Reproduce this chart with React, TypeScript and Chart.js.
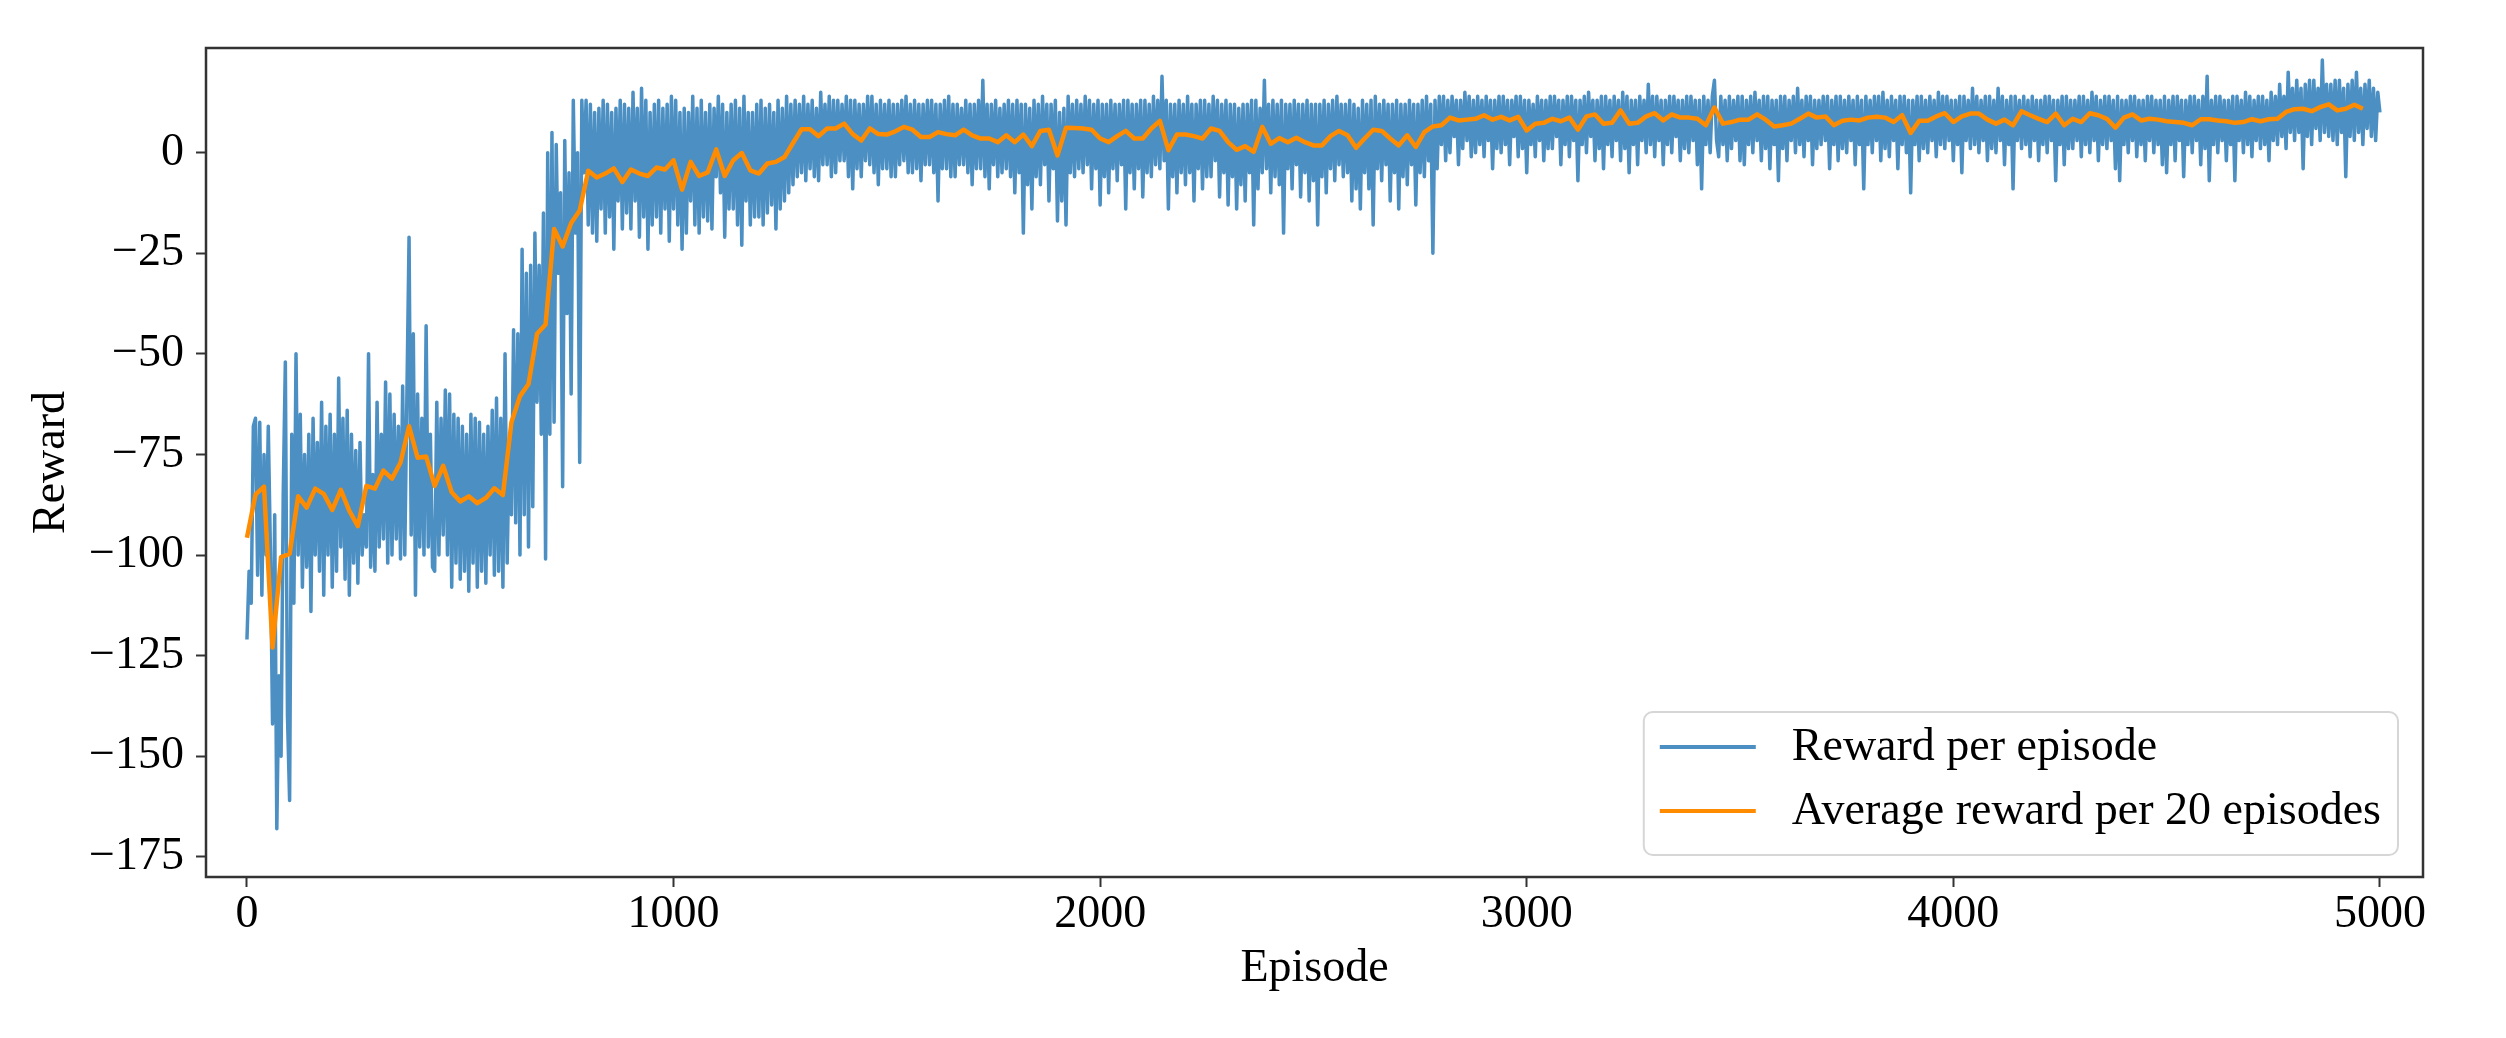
import React, { useEffect, useRef } from 'react';
import { Chart, registerables } from 'chart.js';

Chart.register(...registerables);

// ---- data ----
const REWARD_STEP = 5; // episodes between stored reward samples
const AVG_STEP = 20; // episodes per averaged point

// one row = 100 episodes (20 samples)
const REWARD: number[] = [
  -121, -104, -112, -68, -66, -105, -67, -110, -75, -100, -68, -99, -142, -90, -168, -130, -150, -85, -52, -140,
  -161, -70, -112, -50, -100, -65, -108, -75, -103, -70, -114, -66, -100, -72, -104, -62, -110, -68, -100, -65,
  -108, -70, -104, -56, -98, -66, -106, -64, -110, -70, -102, -74, -107, -72, -100, -90, -98, -50, -103, -80,
  -104, -62, -98, -70, -96, -57, -102, -60, -100, -65, -96, -68, -101, -58, -100, -60, -21, -95, -45, -110,
  -60, -98, -66, -100, -43, -98, -70, -103, -104, -62, -100, -66, -95, -59, -100, -60, -108, -65, -102, -66,
  -106, -68, -104, -70, -109, -65, -102, -66, -108, -67, -104, -70, -107, -68, -100, -64, -105, -61, -104, -66,
  -108, -50, -102, -72, -90, -44, -92, -45, -100, -24, -90, -30, -98, -28, -88, -20, -62, -28, -70, -15,
  -101, 0, -70, 5, -67, 2, -30, -10, -83, 3, -40, -5, -60, 13, -20, 0, -77, 13, -5, 13,
  -18, 12, -20, 10, -22, 11, -14, 13, -20, 12, -16, 10, -24, 11, -12, 13, -19, 12, -15, 11,
  -19, 15, -12, 11, -21, 16, -16, 13, -24, 10, -18, 12, -16, 13, -20, 11, -14, 12, -22, 14,
  -14, 13, -18, 10, -24, 11, -20, 10, -12, 14, -18, 11, -20, 13, -16, 10, -17, 12, -19, 11,
  -6, 14, -10, 12, -21, 10, -14, 12, -14, 13, -18, 11, -23, 14, -12, 10, -18, 10, -16, 12,
  -16, 13, -18, 11, -15, 12, -13, 10, -19, 13, -14, 11, -12, 14, -10, 12, -8, 13, -6, 12,
  -5, 14, -7, 12, -4, 13, -6, 11, -7, 15, -3, 12, -3, 14, -6, 13, -5, 13, -2, 12,
  -2, 14, -6, 13, -9, 13, -4, 12, -6, 12, -2, 14, -3, 14, -5, 12, -8, 13, -4, 12,
  -4, 13, -6, 12, -6, 12, -3, 13, -2, 14, -5, 12, -5, 13, -4, 12, -7, 12, -3, 13,
  -3, 13, -5, 12, -12, 12, -4, 13, -4, 14, -6, 12, -6, 12, -3, 11, -3, 13, -5, 12,
  -8, 12, -4, 13, -4, 18, -6, 12, -9, 12, -3, 13, -6, 11, -5, 12, -4, 13, -6, 12,
  -10, 13, -5, 12, -20, 12, -8, 11, -14, 13, -6, 12, -8, 14, -3, 12, -12, 12, -4, 13,
  -17, 10, -12, 11, -18, 14, -5, 12, -6, 13, -4, 12, -5, 14, -3, 13, -9, 12, -4, 13,
  -13, 12, -6, 12, -10, 13, -4, 12, -7, 12, -3, 13, -14, 13, -5, 12, -9, 12, -4, 13,
  -11, 13, -5, 12, -6, 14, -3, 13, -4, 19, -2, 13, -14, 12, -6, 12, -10, 13, -5, 12,
  -8, 14, -5, 12, -12, 12, -4, 13, -9, 13, -6, 12, -6, 14, -2, 13, -11, 12, -5, 13,
  -13, 12, -6, 12, -14, 11, -8, 12, -12, 12, -5, 13, -18, 13, -9, 11, -5, 18, -4, 12,
  -10, 13, -6, 12, -8, 13, -20, 12, -4, 12, -9, 13, -3, 12, -11, 12, -5, 13, -12, 12,
  -7, 12, -18, 12, -6, 13, -10, 12, -4, 13, -7, 14, -3, 12, -6, 12, -5, 13, -12, 12,
  -9, 11, -14, 13, -5, 12, -9, 13, -18, 14, -4, 12, -7, 13, -3, 12, -12, 12, -5, 13,
  -14, 12, -6, 12, -8, 13, -3, 12, -13, 12, -5, 13, -6, 14, -2, 12, -25, 13, -4, 14,
  2, 14, -2, 13, 0, 14, 4, 13, -3, 13, 1, 15, 3, 14, -1, 13, 0, 14, 2, 13,
  -1, 14, 3, 13, -4, 13, 1, 14, 0, 14, 2, 13, -3, 13, 4, 14, -1, 14, 1, 13,
  -5, 13, 2, 12, -1, 14, 3, 13, -2, 13, 1, 14, 1, 14, 4, 13, -3, 13, 2, 14,
  -1, 14, 3, 13, -7, 13, 2, 14, 0, 15, 4, 13, -2, 13, 1, 14, -4, 14, 2, 13,
  -1, 14, 3, 13, -2, 15, 1, 14, -5, 13, 2, 13, -3, 14, 3, 13, 0, 17, 2, 14,
  -1, 14, 3, 13, -3, 13, 2, 14, 0, 14, 4, 13, -2, 13, 1, 14, 0, 14, 3, 13,
  -3, 13, -9, 14, 2, 13, 0, 14, 18, 3, -1, 14, 2, 13, -2, 14, 1, 13, 3, 14,
  -2, 14, -3, 13, 2, 14, 0, 15, 3, 13, -2, 14, 1, 14, -4, 13, 2, 13, -7, 14,
  1, 14, -2, 13, 3, 14, 0, 16, 2, 13, -1, 14, 3, 14, -3, 13, 1, 13, 2, 14,
  3, 14, -4, 13, 2, 14, -2, 14, 1, 13, 0, 14, 3, 13, -3, 14, 2, 13, -9, 14,
  2, 13, 0, 14, 3, 14, -2, 15, 1, 13, -1, 14, 3, 13, -4, 14, 2, 14, 0, 13,
  -10, 13, 2, 14, -2, 14, 1, 13, 0, 14, 3, 13, -1, 15, 2, 14, 1, 14, 3, 13,
  -2, 13, 2, 14, -5, 14, 3, 13, 1, 16, 2, 14, 0, 13, 3, 14, -2, 14, 1, 13,
  0, 16, 3, 14, -3, 13, 2, 14, -9, 14, 3, 13, 1, 14, 2, 13, -1, 14, 3, 13,
  -2, 13, 2, 14, 0, 14, 3, 13, -7, 13, 2, 14, -3, 14, 1, 13, 1, 13, 3, 14,
  -1, 14, 2, 13, 0, 15, 3, 14, -2, 13, 2, 14, 1, 14, 3, 13, -4, 14, -7, 13,
  2, 13, 0, 14, 3, 14, -1, 13, 2, 13, -2, 14, 3, 14, 0, 13, 2, 13, -3, 14,
  -5, 13, 2, 14, -2, 14, 3, 13, -6, 13, 2, 14, 0, 14, 3, 13, -3, 14, 1, 19,
  -7, 13, 2, 14, 0, 14, 3, 13, -2, 13, 2, 14, -7, 14, 3, 13, 0, 15, 2, 14,
  -1, 13, 3, 14, 1, 14, 2, 13, -2, 15, 3, 14, 2, 17, 4, 14, 1, 20, 5, 16,
  3, 18, 5, 16, -4, 17, 4, 18, 2, 18, 6, 16, 3, 23, 5, 17, 4, 17, 3, 18,
  2, 18, 5, 16, -6, 17, 4, 18, 3, 20, 5, 16, 2, 17, 6, 18, 4, 16, 3, 15,
  10,
];

// one row = 200 episodes (10 averaged points)
const AVG_REWARD: number[] = [
  -95.7, -85, -83, -123, -100.5, -99.7, -85.4, -88.2, -83.5, -84.8,
  -88.8, -83.8, -89, -92.8, -82.8, -83.5, -79, -81, -77, -68,
  -75.8, -75.5, -82.8, -77.8, -84.4, -86.7, -85.4, -87.1, -85.8, -83.4,
  -85.1, -67, -60.5, -57.5, -45, -42.7, -19, -23.3, -17.5, -14.4,
  -4.5, -6.2, -5.2, -3.9, -7.3, -4.2, -5.2, -5.8, -3.7, -4.2,
  -1.9, -9.2, -2.3, -5.8, -4.9, 0.8, -5.8, -1.9, -0.1, -4.4,
  -5.2, -2.7, -2.3, -1.1, 2.4, 5.8, 5.8, 4.1, 6, 6,
  7.2, 4.6, 3, 6, 4.6, 4.5, 5.3, 6.4, 5.7, 3.9,
  3.9, 5.1, 4.6, 4.3, 5.7, 4.3, 3.5, 3.5, 2.6, 4.3,
  2.6, 4.5, 1.6, 5.4, 5.7, -0.7, 6.2, 6.1, 6, 5.7,
  3.5, 2.6, 4.1, 5.4, 3.5, 3.5, 6, 7.9, 0.6, 4.5,
  4.5, 4.1, 3.5, 6, 5.4, 2.6, 0.7, 1.6, 0.2, 6.4,
  2.2, 3.6, 2.6, 3.7, 2.6, 1.8, 1.8, 4.1, 5.4, 4.3,
  1.2, 3.5, 5.7, 5.4, 3.5, 1.8, 4.3, 1.4, 5.1, 6.5,
  6.8, 8.7, 8, 8.2, 8.4, 9.3, 8.2, 8.9, 8, 8.9,
  5.5, 7.2, 7.4, 8.4, 7.8, 8.7, 5.7, 9, 9.5, 7.2,
  7.4, 10.5, 7.2, 7.4, 9, 9.8, 8, 9.5, 8.7, 8.7,
  8.4, 6.8, 11.2, 7.2, 7.6, 8.2, 8.2, 9.5, 8.2, 6.5,
  6.8, 7.2, 8.4, 9.7, 8.7, 9, 6.8, 7.9, 8.2, 8,
  8.7, 8.9, 8.7, 7.6, 9.3, 4.9, 7.9, 7.9, 9, 9.8,
  7.6, 9, 9.7, 9.7, 8.2, 7.2, 8.2, 6.8, 10.3, 9.3,
  8.4, 7.6, 9.7, 6.8, 8.4, 7.6, 9.8, 9.3, 8.4, 6.2,
  8.7, 9.5, 8, 8.4, 8.2, 7.8, 7.6, 7.4, 6.8, 8.3,
  8.3, 8, 7.8, 7.4, 7.6, 8.3, 7.8, 8.3, 8.4, 10.1,
  10.8, 10.9, 10.3, 11.3, 12, 10.5, 10.9, 11.9, 10.9,
];

const X_TICKS = [0, 1000, 2000, 3000, 4000, 5000];
const Y_TICKS = [-175, -150, -125, -100, -75, -50, -25, 0];
const SERIES_LABELS = ['Reward per episode', 'Average reward per 20 episodes'];
const X_TITLE = 'Episode';
const Y_TITLE = 'Reward';

// ---- style ----
const W = 2506;
const H = 1038;
const FONT_FAMILY = '"Liberation Serif", "Times New Roman", serif';
const FONT_SIZE = 46;
const AXIS_COLOR = '#333333';
const BLUE = '#4b8fc3';
const ORANGE = '#ff8c00';

const fmt = (v: number) => (v < 0 ? '\u2212' + Math.abs(v) : String(v));

const framePlugin = {
  id: 'mplFrame',
  afterDatasetsDraw(chart: any) {
    const { ctx, chartArea: a } = chart;
    ctx.save();
    ctx.strokeStyle = AXIS_COLOR;
    ctx.lineWidth = 2.5;
    ctx.strokeRect(a.left, a.top, a.right - a.left, a.bottom - a.top);
    ctx.restore();
  },
};

const legendPlugin = {
  id: 'mplLegend',
  afterDraw(chart: any) {
    const { ctx, chartArea: a } = chart;
    const ds = chart.data.datasets;
    ctx.save();
    ctx.font = `${FONT_SIZE}px ${FONT_FAMILY}`;
    const textW = Math.max(...ds.map((d: any) => ctx.measureText(d.label).width));
    const padL = 16;
    const lineLen = 96;
    const gap = 36;
    const padR = 17;
    const rowH = 64;
    const boxW = padL + lineLen + gap + textW + padR;
    const boxH = 143;
    const right = a.right - 25;
    const bottom = a.bottom - 22;
    const x0 = right - boxW;
    const y0 = bottom - boxH;
    ctx.beginPath();
    if ((ctx as any).roundRect) (ctx as any).roundRect(x0, y0, boxW, boxH, 9);
    else ctx.rect(x0, y0, boxW, boxH);
    ctx.fillStyle = 'rgba(255,255,255,0.8)';
    ctx.fill();
    ctx.strokeStyle = '#d6d6d6';
    ctx.lineWidth = 2;
    ctx.stroke();
    ds.forEach((d: any, i: number) => {
      const cy = y0 + 35 + i * rowH;
      ctx.beginPath();
      ctx.moveTo(x0 + padL, cy);
      ctx.lineTo(x0 + padL + lineLen, cy);
      ctx.strokeStyle = d.borderColor;
      ctx.lineWidth = 4;
      ctx.lineCap = 'butt';
      ctx.stroke();
      ctx.fillStyle = '#000';
      ctx.textBaseline = 'middle';
      ctx.textAlign = 'left';
      ctx.fillText(d.label, x0 + padL + lineLen + gap, cy + 1);
    });
    ctx.restore();
  },
};

export default function App() {
  const canvasRef = useRef<HTMLCanvasElement | null>(null);

  useEffect(() => {
    if (!canvasRef.current) return;
    const font = { family: FONT_FAMILY, size: FONT_SIZE };
    const chart = new Chart(canvasRef.current, {
      type: 'line',
      data: {
        datasets: [
          {
            label: SERIES_LABELS[0],
            data: REWARD.map((y, i) => ({ x: i * REWARD_STEP, y })),
            borderColor: BLUE,
            backgroundColor: BLUE,
            borderWidth: 3.5,
            pointRadius: 0,
            tension: 0,
            borderJoinStyle: 'round',
            order: 1,
          },
          {
            label: SERIES_LABELS[1],
            data: AVG_REWARD.map((y, i) => ({ x: i * AVG_STEP, y })),
            borderColor: ORANGE,
            backgroundColor: ORANGE,
            borderWidth: 4.5,
            pointRadius: 0,
            tension: 0,
            borderJoinStyle: 'round',
            order: 0,
          },
        ],
      },
      options: {
        responsive: false,
        animation: false,
        events: [],
        layout: { padding: { left: 0, right: 83, top: 48, bottom: 0 } },
        plugins: { legend: { display: false }, tooltip: { enabled: false } },
        scales: {
          x: {
            type: 'linear',
            position: 'bottom',
            min: -96,
            max: 5101,
            afterBuildTicks: (s: any) => {
              s.ticks = X_TICKS.map((v) => ({ value: v }));
            },
            afterFit: (s: any) => {
              s.height = 161;
            },
            border: { display: false },
            grid: {
              display: true,
              drawOnChartArea: false,
              drawTicks: true,
              tickLength: 10,
              tickWidth: 2,
              tickColor: AXIS_COLOR,
              color: AXIS_COLOR,
            },
            ticks: {
              font,
              color: '#000',
              padding: 0,
              maxRotation: 0,
              minRotation: 0,
              autoSkip: false,
              callback: (v: any) => fmt(Number(v)),
            },
            title: {
              display: true,
              text: X_TITLE,
              font,
              color: '#000',
              padding: { top: 0, bottom: 41 },
            },
          },
          y: {
            type: 'linear',
            min: -180,
            max: 26,
            afterBuildTicks: (s: any) => {
              s.ticks = Y_TICKS.map((v) => ({ value: v }));
            },
            afterFit: (s: any) => {
              s.width = 206;
            },
            border: { display: false },
            grid: {
              display: true,
              drawOnChartArea: false,
              drawTicks: true,
              tickLength: 10,
              tickWidth: 2,
              tickColor: AXIS_COLOR,
              color: AXIS_COLOR,
            },
            ticks: {
              font,
              color: '#000',
              padding: 12,
              autoSkip: false,
              callback: (v: any) => fmt(Number(v)),
            },
            title: {
              display: true,
              text: Y_TITLE,
              font,
              color: '#000',
              padding: { top: 24, bottom: 0 },
            },
          },
        },
      },
      plugins: [framePlugin, legendPlugin],
    } as any);
    return () => chart.destroy();
  }, []);

  return (
    <div style={{ position: 'absolute', left: 0, top: 0, width: W, height: H, background: '#fff' }}>
      <canvas ref={canvasRef} width={W} height={H} style={{ display: 'block' }} />
    </div>
  );
}
